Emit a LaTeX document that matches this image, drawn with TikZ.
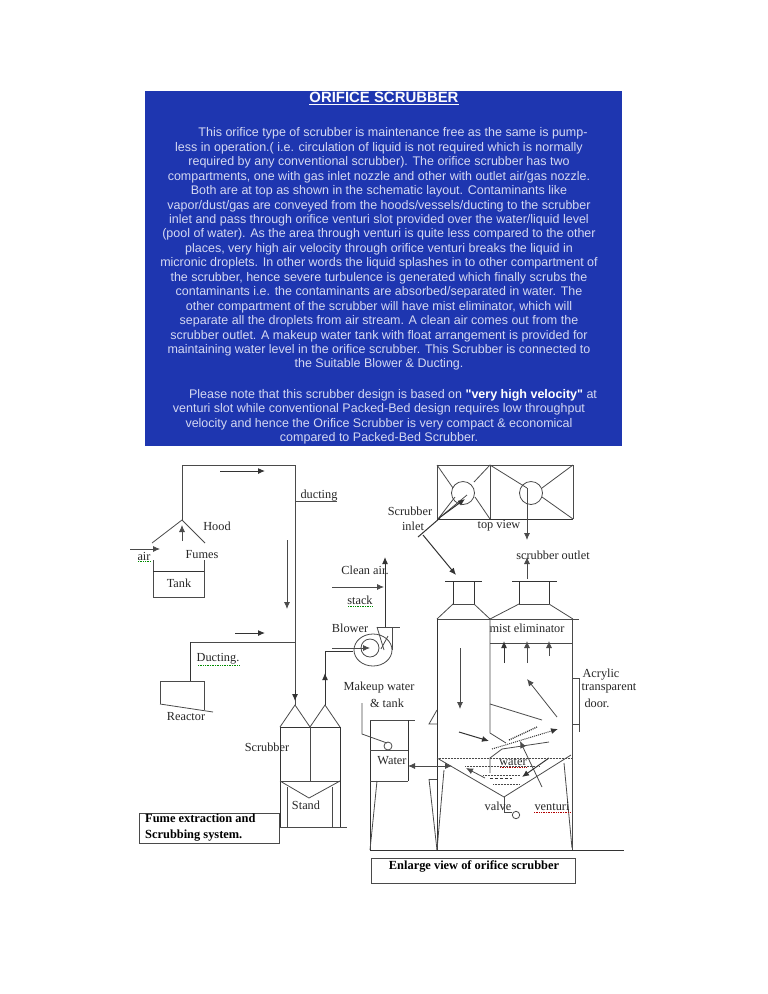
\documentclass[tikz,border=0pt]{standalone}
\usepackage{fontspec}
\setmainfont{Liberation Serif}
\newfontfamily\panelfont{Liberation Sans}
\usetikzlibrary{arrows.meta}
\definecolor{panelblue}{HTML}{1E36B0}
\definecolor{paneltext}{HTML}{D4D8F2}
\definecolor{inkline}{HTML}{4A4A4A}
\tikzset{
    pipe/.style={draw=inkline, line width=0.8pt},
    heavy/.style={draw=black!80, line width=1pt},
    lbl/.style={inner sep=0pt, font=\fontsize{12.3}{14}\selectfont, text=black!85},
    boldlbl/.style={inner sep=0pt, font=\fontsize{12.4}{16}\bfseries\selectfont, text=black, align=left},
    level/.style={draw=inkline, line width=0.5pt, densely dotted},
    spell/.style={line width=0.7pt, densely dotted},
}
\begin{document}
\begin{tikzpicture}[x=1pt, y=-1pt, >={Latex[length=7pt,width=6pt]}]
    \useasboundingbox (0,0) rectangle (768,994);

    % Blue text panel
    \fill[panelblue] (145,91) rectangle (622,446);
    \node[text=white!90!paneltext, inner sep=0pt, font=\panelfont\fontsize{14.9}{16}\bfseries\selectfont] (paneltitle) at (384,98.5) {\underline{ORIFICE SCRUBBER}};
    \node[text=paneltext, inner sep=0pt, align=center, anchor=north, font=\panelfont\fontsize{12.5}{14.45}\selectfont] (firstpara) at (379,127.5) {%
        \hspace*{28pt}This orifice type of scrubber is maintenance free as the same is pump-\\
        less in operation.( i.e. circulation of liquid is not required which is normally\\
        required by any conventional scrubber). The orifice scrubber has two\\
        compartments, one with gas inlet nozzle and other with outlet air/gas nozzle.\\
        Both are at top as shown in the schematic layout. Contaminants like\\
        vapor/dust/gas are conveyed from the hoods/vessels/ducting to the scrubber\\
        inlet and pass through orifice venturi slot provided over the water/liquid level\\
        (pool of water). As the area through venturi is quite less compared to the other\\
        places, very high air velocity through orifice venturi breaks the liquid in\\
        micronic droplets. In other words the liquid splashes in to other compartment of\\
        the scrubber, hence severe turbulence is generated which finally scrubs the\\
        contaminants i.e. the contaminants are absorbed/separated in water. The\\
        other compartment of the scrubber will have mist eliminator, which will\\
        separate all the droplets from air stream. A clean air comes out from the\\
        scrubber outlet. A makeup water tank with float arrangement is provided for\\
        maintaining water level in the orifice scrubber. This Scrubber is connected to\\
        the Suitable Blower \& Ducting.};
    \node[text=paneltext, inner sep=0pt, align=center, anchor=north, font=\panelfont\fontsize{12.5}{14.45}\selectfont] (secondpara) at (379,389) {%
        \hspace*{28pt}Please note that this scrubber design is based on {\bfseries\color{white} "very high velocity"} at\\
        venturi slot while conventional Packed-Bed design requires low throughput\\
        velocity and hence the Orifice Scrubber is very compact \& economical\\
        compared to Packed-Bed Scrubber.};

    % Hood and tank
    \draw[pipe] (152,543) -- (182,520) -- (205,543);
    \draw[pipe] (153,560) -- (153,597) -- (204,597) -- (204,560);
    \draw[heavy] (153,571) -- (204,571);
    \draw[pipe, ->] (182,541) -- (182,525);
    \draw[pipe, ->] (130,549) -- (160,549);

    % Main ducting
    \draw[pipe] (182,520) -- (182,465) -- (295,465) -- (295,705);
    \draw[pipe] (295,501) -- (337,501);
    \draw[heavy, ->] (220,471) -- (265,471);
    \draw[pipe, ->] (287,540) -- (287,609);
    \draw[heavy, ->] (235,633) -- (265,633);
    \draw[heavy, ->] (295,690) -- (295,701);

    % Reactor branch
    \draw[pipe] (295,642) -- (190,642);
    \draw[heavy] (190,642) -- (190,681);
    \draw[pipe] (160,704) -- (160,681) -- (204,681) -- (204,710);
    \draw[pipe] (160,704) -- (213,712);

    % Small scrubber on its stand
    \draw[pipe] (280,727) -- (295,705) -- (310,727) -- (325,705) -- (340,727);
    \draw[heavy] (280,827) -- (280,727) -- (340,727) -- (340,827);
    \draw[pipe] (310,727) -- (310,781);
    \draw[pipe] (280,781) -- (340,781);
    \draw[pipe] (280,781) -- (309,798) -- (340,781);
    \draw[pipe] (287,787) -- (287,827);
    \draw[pipe] (332,787) -- (332,827);
    \draw[pipe] (280,827) -- (347,827);
    \draw[pipe, line width=1pt] (139,813) rectangle (279,843);

    % Blower and stack
    \draw[heavy] (325,705) -- (325,651) -- (353,651);
    \draw[heavy, ->] (325,690) -- (325,673);
    \draw[pipe, ->] (332,648) -- (370,648);
    \draw[pipe] (373,650) ellipse[x radius=19pt, y radius=16pt];
    \draw[pipe] (370,648) circle[radius=9pt];
    \draw[pipe] (377,627) -- (400,627);
    \draw[pipe] (377,627) -- (384,650);
    \draw[pipe] (388,636) -- (381,649);
    \draw[pipe] (392,627) -- (392,650);
    \draw[heavy, ->] (385,627) -- (385,557);
    \draw[pipe, ->] (332,587) -- (384,587);

    % Top view
    \draw[pipe] (437,519) -- (437,465) -- (573,465) -- (573,519);
    \draw[heavy] (437,519) -- (573,519);
    \draw[pipe] (490,465) -- (490,519);
    \draw[pipe] (463,493) circle[radius=11.5pt];
    \draw[pipe] (531,493) circle[radius=11.5pt];
    \draw[pipe] (437,465) -- (453,488);
    \draw[pipe] (490,465) -- (474,482);
    \draw[pipe] (475,497) -- (490,519);
    \draw[pipe] (490,465) -- (527,488);
    \draw[pipe] (573,465) -- (542,488);
    \draw[pipe] (542,497) -- (573,519);
    \draw[pipe] (438,519) -- (455,497);
    \draw[pipe] (438,519) -- (467,495);
    \draw[heavy, ->] (439,518) -- (465,499);
    \draw[heavy] (418,537) -- (440,518);
    \draw[heavy, ->] (423,535) -- (456,575);
    \draw[pipe, ->] (527,488) -- (527,540);
    \draw[pipe, ->] (527,579) -- (527,557);

    % Enlarged scrubber, nozzles
    \draw[heavy] (445,581) -- (482,581);
    \draw[heavy] (453,581) -- (453,604);
    \draw[heavy] (474,581) -- (474,604);
    \draw[pipe] (453,604) -- (474,604);
    \draw[heavy] (512,581) -- (557,581);
    \draw[heavy] (519,581) -- (519,604);
    \draw[heavy] (549,581) -- (549,604);
    \draw[pipe] (519,604) -- (549,604);
    \draw[pipe] (437,619) -- (453,604);
    \draw[pipe] (474,604) -- (490,619) -- (519,604);
    \draw[pipe] (549,604) -- (573,619);
    \draw[pipe] (437,619) -- (579,619);

    % Enlarged scrubber, shell and inside
    \draw[heavy] (437,619) -- (437,850);
    \draw[pipe] (572,619) -- (572,850);
    \draw[pipe] (490,619) -- (490,733) -- (506,743);
    \draw[pipe] (490,704) -- (542,720);
    \draw[pipe] (437,710) -- (429,724) -- (437,724);
    \draw[pipe] (490,643) -- (572,643);
    \draw[heavy, ->] (504,663) -- (504,641);
    \draw[pipe, ->] (527,663) -- (527,641);
    \draw[pipe, ->] (549,656) -- (549,641);
    \draw[pipe, ->] (460,648) -- (460,709);
    \draw[pipe, ->] (557,717) -- (527,679);
    \draw[heavy, ->] (459,732) -- (489,741);
    \draw[heavy, densely dotted, line width=1.3pt] (509,740) -- (537,727);
    \draw[heavy, densely dotted, ->] (492,749) -- (558,729);
    \draw[pipe] (490,773) -- (490,758) -- (502,749) -- (549,742);
    \draw[pipe, ->] (542,787) -- (520,741);
    \draw[heavy, ->] (549,758) -- (522,777);
    \draw[pipe, ->] (485,778) -- (466,768);
    \draw[pipe, <->] (408,766) -- (452,766);
    \draw[level] (437,758) -- (572,758);
    \draw[level] (465,766) -- (540,766);
    \draw[level] (483,775) -- (520,775);
    \draw[level] (493,784) -- (520,784);
    \draw[heavy, densely dashed] (490,778) -- (512,778);
    \draw[pipe] (437,758) -- (504,797) -- (571,755);
    \draw[pipe] (504,797) -- (504,812) -- (512,812);
    \draw[pipe] (516,815) circle[radius=3.7pt];
    \draw[pipe] (444,770) -- (437,850);
    \draw[pipe] (564,763) -- (572,848);
    \draw[pipe] (572,678) -- (579,678) -- (579,732);
    \draw[pipe] (572,724) -- (579,724);
    \draw[heavy] (370,850) -- (624,850);
    \draw[pipe, line width=1pt] (371,858) rectangle (575,883);

    % Makeup water tank
    \draw[heavy] (370,850) -- (370,720);
    \draw[pipe] (370,720) -- (415,720);
    \draw[heavy] (408,720) -- (408,781);
    \draw[pipe] (370,750) -- (408,750);
    \draw[pipe] (370,781) -- (408,781);
    \draw[pipe] (388,746) circle[radius=4pt];
    \draw[pipe] (362,703) -- (362,734) -- (387,743);
    \draw[pipe] (377,781) -- (370,850);
    \draw[pipe] (429,779) -- (437,850);
    \draw[pipe] (429,779) -- (437,779);

    % Labels
    \node[lbl] (hood) at (217,526) {Hood};
    \node[lbl] (fumes) at (202,555) {Fumes};
    \node[lbl] (air) at (144,556) {air};
    \node[lbl] (tank) at (179,583) {Tank};
    \node[lbl] (ducting) at (319,496) {ducting};
    \node[lbl] (cleanair) at (365,570) {Clean air.};
    \node[lbl] (stack) at (360,600) {stack};
    \node[lbl] (blower) at (350,628) {Blower};
    \node[lbl] (branch) at (218,659) {Ducting.};
    \node[lbl] (reactor) at (186,717) {Reactor};
    \node[lbl] (scrubber) at (267,747) {Scrubber};
    \node[lbl] (stand) at (306,805) {Stand};
    \node[boldlbl, anchor=west] (fumebox) at (145,828) {Fume extraction and\\Scrubbing system.};
    \node[lbl] (inleta) at (410,511) {Scrubber};
    \node[lbl] (inletb) at (413,526) {inlet};
    \node[lbl] (topview) at (499,526) {top view};
    \node[lbl] (outlet) at (553,555) {scrubber outlet};
    \node[lbl] (mist) at (527,628) {mist eliminator};
    \node[lbl] (acrylic) at (601,675) {Acrylic};
    \node[lbl] (transparent) at (609,688) {transparent};
    \node[lbl] (door) at (597,703) {door.};
    \node[lbl] (makeup) at (379,688) {Makeup water};
    \node[lbl] (andtank) at (387,703) {\& tank};
    \node[lbl] (watertank) at (392,761) {Water};
    \node[lbl] (pool) at (513,762) {water};
    \node[lbl] (valve) at (498,806) {valve};
    \node[lbl] (venturi) at (552,806) {venturi};
    \node[boldlbl] (enlarge) at (474,866) {Enlarge view of orifice scrubber};

    % Spell check marks under some labels
    \draw[spell, green!55!black] (138,561) -- (150,561);
    \draw[spell, green!55!black] (348,606) -- (373,606);
    \draw[spell, green!55!black] (198,665) -- (240,665);
    \draw[spell, red!70!black] (534,812) -- (570,812);
    \draw[spell, red!70!black] (500,767) -- (527,767);
\end{tikzpicture}
\end{document}
